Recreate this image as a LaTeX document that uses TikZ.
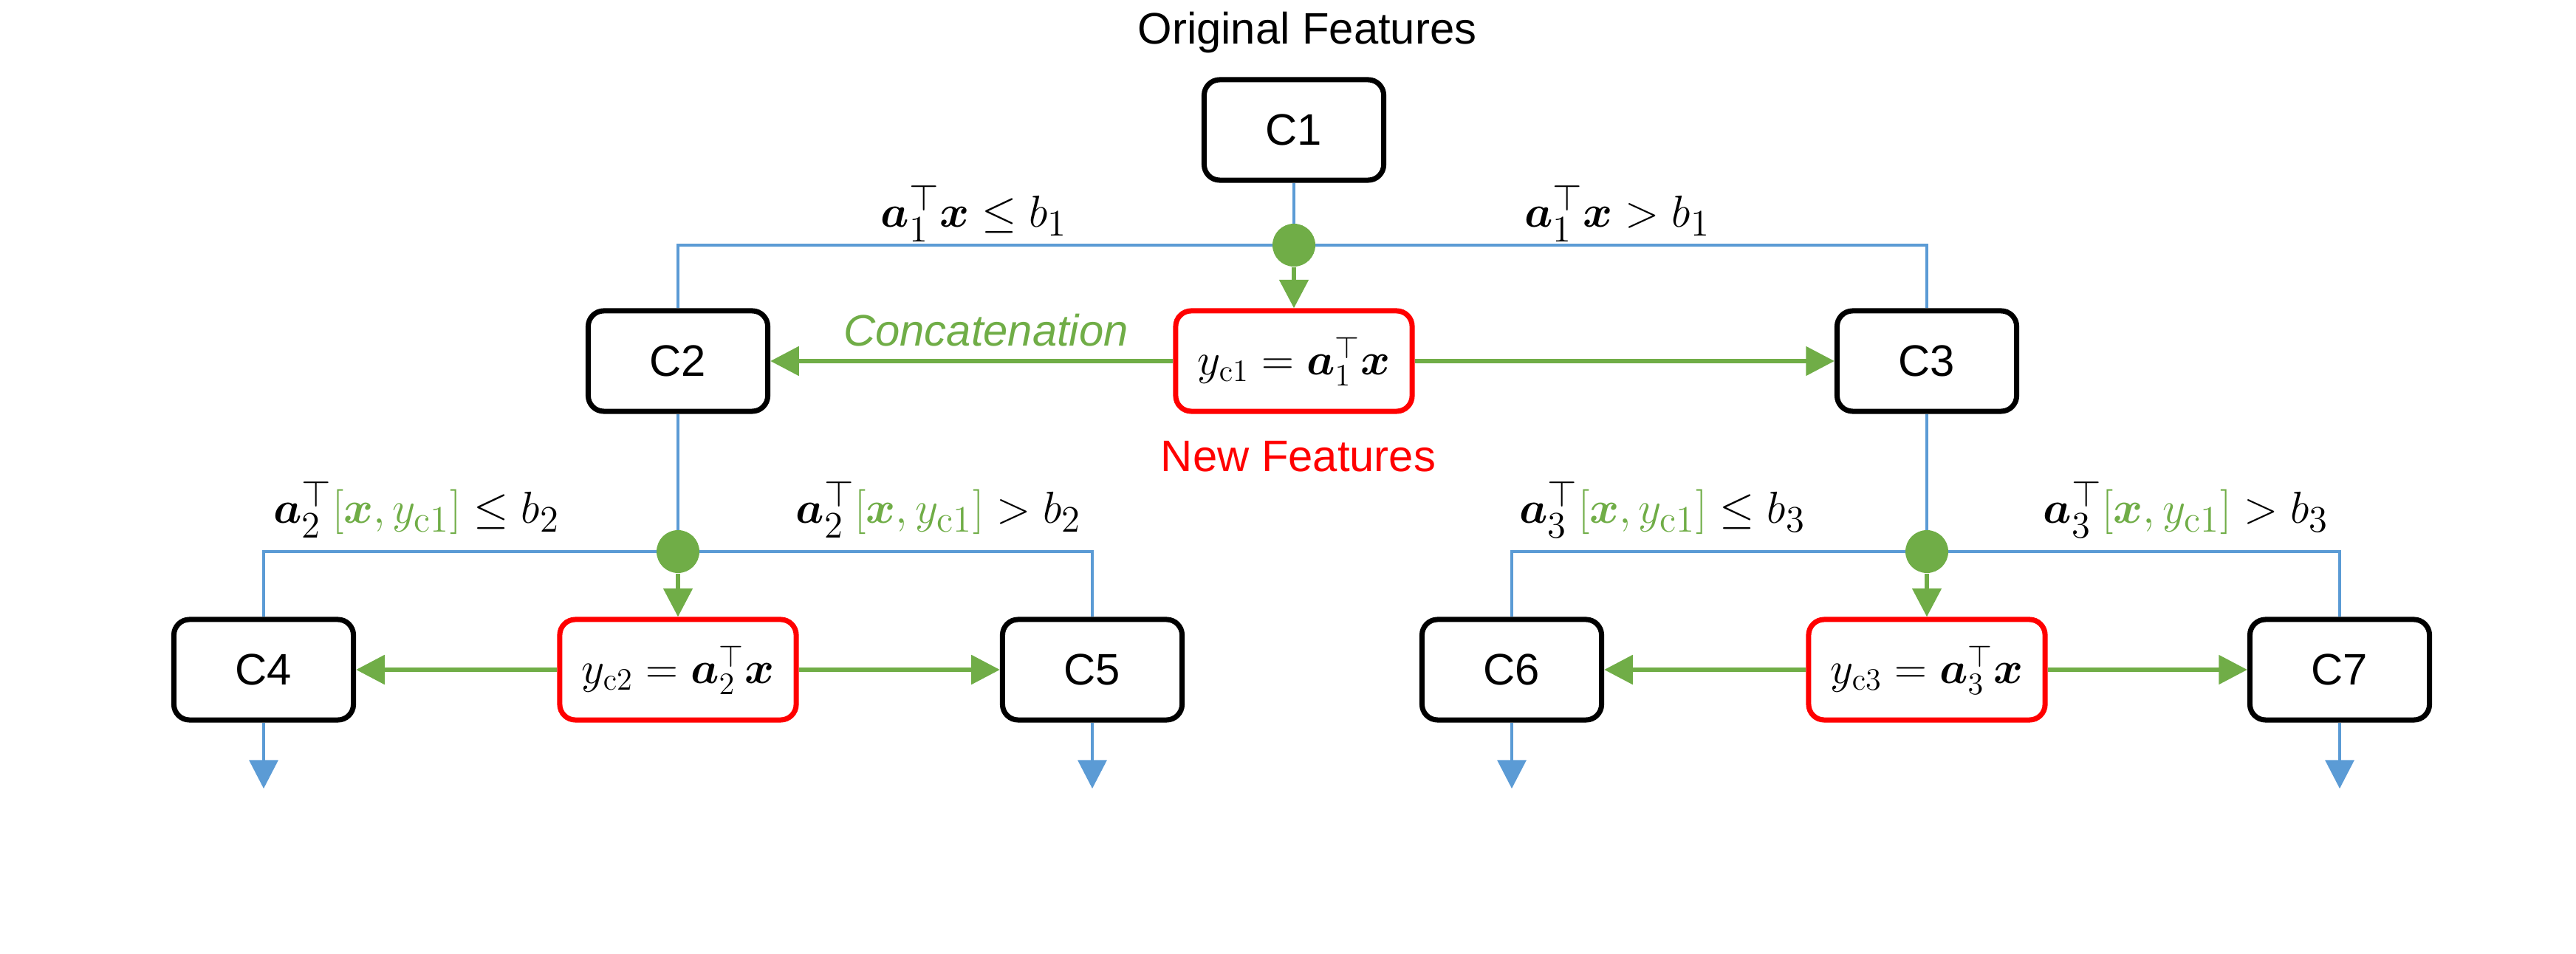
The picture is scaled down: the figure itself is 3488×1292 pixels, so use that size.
\documentclass[tikz,border=0pt]{standalone}
\usepackage[no-math]{fontspec}
\setmainfont{Liberation Sans}
\usepackage{amsmath,bm}
\usetikzlibrary{arrows.meta}
\definecolor{cblue}{HTML}{5B9BD5}
\definecolor{cgreen}{HTML}{70AD47}
\definecolor{cred}{HTML}{FF0000}
\begin{document}
\begin{tikzpicture}[x=0.01cm,y=-0.01cm,
  cbox/.style={draw=black,line width=2pt,rounded corners=6pt,minimum width=2.43cm,minimum height=1.36cm,inner sep=0pt,font=\fontsize{17}{20}\selectfont},
  rbox/.style={cbox,draw=cred,minimum width=3.2cm,font=\fontsize{18.5}{20}\selectfont},
  bl/.style={draw=cblue,line width=1.3pt},
  blarrow/.style={bl,-{Triangle[length=11pt,width=11pt]}},
  garrow/.style={draw=cgreen,line width=1.8pt,-{Triangle[length=11pt,width=11pt]}},
  gdot/.style={circle,fill=cgreen,minimum size=0.58cm,inner sep=0pt},
  lbl/.style={font=\fontsize{19}{21}\selectfont},
  txt/.style={font=\fontsize{17}{20}\selectfont}]
\useasboundingbox (0,0) rectangle (3488,1292);
% level 0
\node[txt] (orig) at (1770,44) {Original Features};
\node[cbox] (c1) at (1752,176) {C1};
% level 1
\node[cbox] (c2) at (918,489) {C2};
\node[rbox] (r1) at (1752,489) {$y_{\mathrm{c1}} = \bm{a}_1^{\top}\bm{x}$};
\node[cbox] (c3) at (2609,489) {C3};
\coordinate (d1) at (1752,332);
% level 2
\node[cbox] (c4) at (357,907) {C4};
\node[rbox] (r2) at (918,907) {$y_{\mathrm{c2}} = \bm{a}_2^{\top}\bm{x}$};
\node[cbox] (c5) at (1479,907) {C5};
\node[cbox] (c6) at (2047,907) {C6};
\node[rbox] (r3) at (2609,907) {$y_{\mathrm{c3}} = \bm{a}_3^{\top}\bm{x}$};
\node[cbox] (c7) at (3168,907) {C7};
\coordinate (d2) at (918,747);
\coordinate (d3) at (2609,747);
% ends of down arrows
\coordinate (e4) at (357,1068);
\coordinate (e5) at (1479,1068);
\coordinate (e6) at (2047,1068);
\coordinate (e7) at (3168,1068);
% blue tree lines
\draw[bl] (c1.south) -- (d1);
\draw[bl] (c2.north) |- (d1) -| (c3.north);
\draw[bl] (c2.south) -- (d2);
\draw[bl] (c4.north) |- (d2) -| (c5.north);
\draw[bl] (c3.south) -- (d3);
\draw[bl] (c6.north) |- (d3) -| (c7.north);
\draw[blarrow] (c4.south) -- (e4);
\draw[blarrow] (c5.south) -- (e5);
\draw[blarrow] (c6.south) -- (e6);
\draw[blarrow] (c7.south) -- (e7);
% green dots
\node[gdot] (g1) at (d1) {};
\node[gdot] (g2) at (d2) {};
\node[gdot] (g3) at (d3) {};
% green arrows
\draw[garrow] (g1.south) -- (r1.north);
\draw[garrow] (r1.west) -- (c2.east);
\draw[garrow] (r1.east) -- (c3.west);
\draw[garrow] (g2.south) -- (r2.north);
\draw[garrow] (r2.west) -- (c4.east);
\draw[garrow] (r2.east) -- (c5.west);
\draw[garrow] (g3.south) -- (r3.north);
\draw[garrow] (r3.west) -- (c6.east);
\draw[garrow] (r3.east) -- (c7.west);
% labels
\node[lbl] (l1a) at (1319,289) {$\bm{a}_1^{\top}\bm{x} \le b_1$};
\node[lbl] (l1b) at (2190,289) {$\bm{a}_1^{\top}\bm{x} > b_1$};
\node[txt,text=cgreen,font=\fontsize{17}{20}\selectfont\itshape] (concat) at (1335,447) {Concatenation};
\node[txt,text=cred] (newf) at (1758,618) {New Features};
\node[lbl] (l2a) at (564,690) {$\bm{a}_2^{\top}{\color{cgreen}[\bm{x}, y_{\mathrm{c1}}]} \le b_2$};
\node[lbl] (l2b) at (1271,690) {$\bm{a}_2^{\top}{\color{cgreen}[\bm{x}, y_{\mathrm{c1}}]} > b_2$};
\node[lbl] (l3a) at (2251,690) {$\bm{a}_3^{\top}{\color{cgreen}[\bm{x}, y_{\mathrm{c1}}]} \le b_3$};
\node[lbl] (l3b) at (2960,690) {$\bm{a}_3^{\top}{\color{cgreen}[\bm{x}, y_{\mathrm{c1}}]} > b_3$};
\end{tikzpicture}
\end{document}
